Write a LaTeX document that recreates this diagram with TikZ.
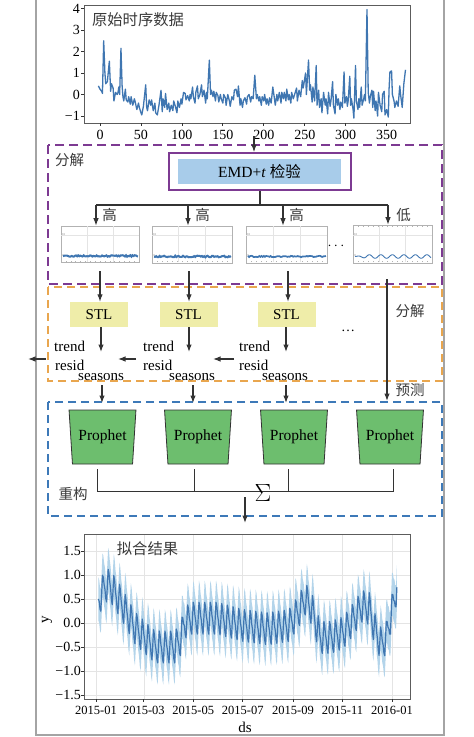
\documentclass[tikz,border=0pt]{standalone}
\usepackage{fontspec}
\setmainfont{Liberation Serif}
\newfontfamily\cjk{Noto Sans CJK SC}
\usetikzlibrary{arrows.meta,shapes.geometric}
\definecolor{framegray}{HTML}{A4A4A4}
\definecolor{purp}{HTML}{7D3A92}
\definecolor{lblue}{HTML}{A8CCEA}
\definecolor{orng}{HTML}{E9A64E}
\definecolor{stly}{HTML}{EFEDA9}
\definecolor{dblue}{HTML}{3D79B8}
\definecolor{pgreen}{HTML}{6DBE6E}
\definecolor{pline}{HTML}{3F76B1}
\definecolor{bandc}{HTML}{B3D4EA}
\definecolor{ink}{HTML}{333333}
\definecolor{gridc}{HTML}{E4E4E4}
\definecolor{txtgray}{HTML}{3A3A3A}
\tikzset{
  declare function={
    Lp(\x,\xa,\ya,\xb,\yb)=\ya+(\yb-\ya)*(\x-\xa)/(\xb-\xa);
    wk(\x)=0.3*sin(51.4286*mod(\x,7))+0.1*sin(102.857*mod(\x,7));
    tr(\x)=(\x<10)?Lp(\x,3,0.45,10,0.75):((\x<17)?Lp(\x,10,0.75,17,0.8):((\x<24)?Lp(\x,17,0.8,24,0.6):((\x<30)?Lp(\x,24,0.6,30,0.45):((\x<38)?Lp(\x,30,0.45,38,0.2):((\x<48)?Lp(\x,38,0.2,48,-0.1):((\x<60)?Lp(\x,48,-0.1,60,-0.3):((\x<73)?Lp(\x,60,-0.3,73,-0.5):((\x<97)?Lp(\x,73,-0.5,97,-0.5):((\x<104)?Lp(\x,97,-0.5,104,-0.35):((\x<109)?Lp(\x,104,-0.35,109,0.0):((\x<118)?Lp(\x,109,0.0,118,0.1):((\x<150)?Lp(\x,118,0.1,150,0.1):((\x<181)?Lp(\x,150,0.1,181,-0.05):((\x<212)?Lp(\x,181,-0.05,212,-0.12):((\x<238)?Lp(\x,212,-0.12,238,-0.05):((\x<250)?Lp(\x,238,-0.05,250,0.25):((\x<258)?Lp(\x,250,0.25,258,0.5):((\x<266)?Lp(\x,258,0.5,266,0.3):((\x<276)?Lp(\x,266,0.3,276,-0.3):((\x<290)?Lp(\x,276,-0.3,290,-0.3):((\x<305)?Lp(\x,290,-0.3,305,-0.2):((\x<318)?Lp(\x,305,-0.2,318,0.1):((\x<328)?Lp(\x,318,0.1,328,0.35):((\x<337)?Lp(\x,328,0.35,337,0.3):((\x<345)?Lp(\x,337,0.3,345,-0.2):((\x<352)?Lp(\x,345,-0.2,352,-0.45):((\x<358)?Lp(\x,352,-0.45,358,-0.3):((\x<363)?Lp(\x,358,-0.3,363,0.1):Lp(\x,363,0.1,371,0.75))))))))))))))))))))))))))));
  },
}
\begin{document}
\begin{tikzpicture}[x=1pt,y=-1pt,
  conn/.style={draw=ink, line width=1.1pt},
  arr/.style={conn, -{Latex[length=7.5pt,width=5.5pt]}},
  lbl/.style={font=\cjk\fontsize{14.5}{15}\selectfont, text=txtgray, inner sep=0},
  tick/.style={font=\fontsize{14}{14}\selectfont, inner sep=0},
  xtick/.style={font=\fontsize{12.5}{12.5}\selectfont, inner sep=0},
  stlbox/.style={fill=stly, minimum width=58pt, minimum height=25pt, inner sep=0, font=\fontsize{15}{15}\selectfont},
  word/.style={font=\fontsize{15}{15}\selectfont, inner sep=0, anchor=base west},
  prophet/.style={trapezium, trapezium stretches=true, shape border rotate=180, trapezium left angle=79, trapezium right angle=79, minimum width=67pt, minimum height=54pt, fill=pgreen, draw=ink, line width=0.8pt, inner sep=0, font=\fontsize{15.5}{16}\selectfont},
  minibox/.style={draw=gray!60, line width=0.6pt, fill=white, inner sep=0},
  axisbox/.style={draw=ink!80, line width=1pt},
  boxdash/.style={dash pattern=on 9pt off 5pt, line width=2.2pt},
]
\useasboundingbox (0,0) rectangle (474,737);
\fill[white] (0,0) rectangle (474,737);
% outer frame
\draw[framegray, line width=2pt] (36,-5) -- (36,735) -- (444,735) -- (444,-5);

% ===== top plot =====
\draw[axisbox] (84,5) rectangle (410,123);
\foreach \v/\s in {4/4,3/3,2/2,1/1,0/0,-1/−1} {
  \draw[ink, line width=0.8pt] (84,{94.5-21.5*\v}) -- ++(-3,0);
  \node[tick, anchor=east] at (80,{94.5-21.5*\v}) {\s};
}
\foreach \t in {0,50,...,350} {
  \draw[ink, line width=0.8pt] ({100+0.819*\t},123) -- ++(0,3);
  \node[tick] at ({100+0.819*\t},135) {\t};
}
\begin{scope}[shift={(100,94.5)}, x=0.819pt, y=21.5pt]
\draw[pline, line width=1.3pt, line join=round] plot coordinates {
(-2,0.4) (0,0.25) (2,0.15) (3,0.05) (4.5,2.5) (6,1.0) (7,0.5) (9,0.6) (11.4,1.55) (13,0.15) (14,0.5) (16,0.3) (17,-0.3) (19,0.1) (21,0.0) (22,0.1) (23,0.35) (24,0.0) (25.6,2.15) (27,0.4) (28,-0.1) (29,-0.3) (31,0.25) (32,-0.25) (34,-0.35) (35,-0.1) (37,-0.45) (38,-0.1) (40,-0.5) (42,-0.2) (43,-0.35) (45,-0.7) (47,-0.4) (48,-0.6) (50,-0.85) (51,-0.95) (53,-0.55) (55.8,0.45) (57,-0.6) (58,-0.75) (60,-0.25) (62,-0.5) (63,-0.25) (65,-0.75) (67,-0.4) (68,-0.85) (70,-0.95) (72,-0.5) (74.5,0.2) (76,-0.8) (77,-0.2) (79,-0.6) (80,0.05) (82,-0.7) (84,-0.4) (85,-0.8) (87,-0.5) (89,-0.75) (90,-0.3) (92,-0.55) (94,-0.85) (95,-0.3) (97,-0.6) (99,-0.2) (100,-0.45) (102,0.1) (104,0.05) (105,-0.25) (107,-0.05) (109,-0.3) (110,0.0) (111,-0.2) (113,0.35) (114,-0.1) (116,-0.4) (117,0.1) (119,0.4) (120,-0.2) (122,0.0) (124,0.45) (125,-0.1) (127,0.2) (129,-0.4) (130,0.1) (131,-0.2) (133.5,1.6) (135,0.0) (136,0.2) (138,-0.1) (139,0.15) (141,-0.3) (142,0.1) (144,-0.05) (145,-0.35) (147,0.0) (148,-0.2) (150,-0.4) (151,0.0) (153,-0.15) (154,-0.5) (156,0.0) (158,-0.3) (159,-0.55) (161,-0.1) (163,-0.25) (164,0.2) (166,0.25) (168,-0.1) (169,0.4) (171,-0.5) (172,-0.2) (174,-0.6) (175,-0.3) (177,-0.15) (179,-0.45) (180,-0.1) (182,0.0) (184,-0.35) (185,-0.1) (187,-0.2) (189,0.9) (191,-0.2) (192,0.0) (194,-0.3) (195,-0.1) (197,-0.5) (198,-0.1) (200,-0.3) (201,0.0) (203,-0.45) (204,-0.2) (206,-0.5) (207,-0.15) (209,-0.4) (211,0.35) (213,-0.2) (214,-0.5) (216,0.0) (217,-0.3) (219,0.1) (221,-0.4) (222,0.1) (224,-0.2) (225,0.1) (227,-0.3) (228,0.25) (230,-0.25) (231,0.0) (233,-0.4) (234,0.1) (236,-0.2) (238,0.05) (240,0.3) (241,-0.3) (243,0.2) (245,-0.1) (247,0.65) (248,0.3) (249,0.5) (251,1.0) (252,0.0) (254.6,1.6) (256,0.2) (257,0.45) (259,-0.35) (260,0.35) (262,-0.3) (264,1.35) (265,-0.5) (267,0.2) (268,-0.6) (270,-0.2) (271,-0.85) (273,0.1) (275,-0.5) (276,-0.2) (278,-0.9) (279,0.1) (281,-0.55) (282,-0.3) (284,0.6) (285,-0.5) (287,-0.9) (288,0.0) (290,-0.5) (291,-0.2) (293,-0.7) (294,-0.35) (296,-0.6) (298,1.05) (299,-0.4) (301,-0.1) (302,-0.55) (303,-0.3) (305,0.85) (306,-0.5) (307,-0.2) (309,-0.7) (310,-1.1) (312,1.35) (313,-0.3) (315,-0.7) (316,-0.2) (317,-0.6) (319,0.35) (320,-0.5) (322,-0.2) (323,0.0) (324,-0.3) (326,3.95) (327.5,0.1) (329,-0.4) (330,-0.1) (332,0.2) (333,-0.6) (334,0.15) (336,-0.75) (337,-0.3) (339,-1.0) (340,0.1) (342,-0.5) (344,-0.8) (345,0.0) (347,0.15) (348,-0.95) (350,-0.7) (352,-1.05) (353,0.3) (354,1.05) (356,1.1) (357,0.0) (359,-0.3) (360,-0.6) (362,-0.3) (364,-0.55) (366,0.4) (367,0.0) (369,-0.6) (371,0.5) (373,1.15)};
\end{scope}
\node[lbl, font=\cjk\fontsize{15.3}{16}\selectfont] (rawlbl) at (138,20) {原始时序数据};
\coordinate (rawout) at (254,136);

% ===== decomposition box (purple) =====
\draw[purp, boxdash] (48,145) rectangle (442,284);
\node[lbl] (fj1) at (69.5,160.5) {分解};
\node[draw=purp, line width=1.8pt, fill=white, minimum width=182pt, minimum height=37pt, inner sep=0] (emd) at (260,171.5) {};
\node[fill=lblue, minimum width=163pt, minimum height=25pt, inner sep=0, font=\fontsize{15.5}{16}\selectfont] (emdin) at (259.5,171.5) {EMD+\textit{t} {\cjk 检验}};
\draw[arr] (rawout) -- (rawout |- emd.north);

% branching bus
\coordinate (bus) at (260,205);
\coordinate (a1) at (96,205);
\coordinate (a2) at (188,205);
\coordinate (a3) at (283,205);
\coordinate (a4) at (388,205);
\draw[conn] (emd.south) -- (bus);
\draw[conn] (a1) -- (a4);

% mini plots
\node[minibox, minimum width=78pt, minimum height=36pt] (m1) at (100,244) {};
\node[minibox, minimum width=80pt, minimum height=37pt] (m2) at (192,244.5) {};
\node[minibox, minimum width=81pt, minimum height=37pt] (m3) at (286.5,244.5) {};
\node[minibox, minimum width=79pt, minimum height=38pt] (m4) at (392.5,244) {};
\foreach \xa/\xb in {61/139,152/232,246/327,353/432} {
  \draw[gridc, line width=0.5pt] ({\xa+(\xb-\xa)/3},226) -- ({\xa+(\xb-\xa)/3},262)
     ({\xa+2*(\xb-\xa)/3},226) -- ({\xa+2*(\xb-\xa)/3},262)
     (\xa,235) -- (\xb,235);
  \foreach \k in {0,...,16} {
    \draw[gray!60, line width=0.3pt] ({\xa+(\xb-\xa)*\k/16},226) -- ++(0,1.2)
      ({\xa+(\xb-\xa)*\k/16},262) -- ++(0,-1.2);
  }
  \node[font=\fontsize{3}{3}\selectfont, text=gray, inner sep=0] at ({\xa+2.5},235) {10};
  \node[font=\fontsize{3}{3}\selectfont, text=gray, inner sep=0] at ({\xa+2},256) {0};
}
\pgfmathsetseed{11}
\draw[pline, line width=2pt] plot[domain=63:138, samples=70] (\x,{256+0.8*rand});
\draw[pline, line width=2pt] plot[domain=154:231, samples=70] (\x,{256.5+0.8*rand});
\draw[pline, line width=1.7pt] plot[domain=248:326, samples=70] (\x,{256.5+0.7*rand});
\draw[pline, line width=0.9pt] plot[domain=355:431, samples=150] (\x,{256.5-1.8*sin(31.3*(\x-355))*min(1,(\x-355)/12)});
\node[inner sep=0, font=\fontsize{14}{14}\selectfont] (dots1) at (336,246) {$\cdots$};

\draw[arr] (a1) -- (a1 |- m1.north);
\draw[arr] (a2) -- (a2 |- m2.north);
\draw[arr] (a3) -- (a3 |- m3.north);
\draw[arr] (a4) -- (a4 |- m4.north);
\node[lbl] (g1) at (109.5,215) {高};
\node[lbl] (g2) at (202.5,215) {高};
\node[lbl] (g3) at (296.5,215) {高};
\node[lbl] (g4) at (403.5,215) {低};

% ===== STL box (orange) =====
\draw[orng, boxdash, dash pattern=on 8pt off 5pt, line width=2pt] (48,287) rectangle (442,381);
\node[stlbox] (s1) at (99,314.5) {STL};
\node[stlbox] (s2) at (188.5,314.5) {STL};
\node[stlbox] (s3) at (286.5,314.5) {STL};
\coordinate (mo1) at (100,271);
\coordinate (mo2) at (189,271);
\coordinate (mo3) at (288,271);
\draw[arr] (mo1) -- (mo1 |- s1.north);
\draw[arr] (mo2) -- (mo2 |- s2.north);
\draw[arr] (mo3) -- (mo3 |- s3.north);
\node[lbl] (fj2) at (410,311) {分解};
\node[inner sep=0, font=\fontsize{14}{14}\selectfont] (dots2) at (348,331) {…};

\coordinate (so1) at (101,327);
\coordinate (so2) at (189,327);
\coordinate (so3) at (286,327);
\coordinate (se1) at (101,352);
\coordinate (se2) at (189,352);
\coordinate (se3) at (286,352);
\draw[arr] (so1) -- (se1);
\draw[arr] (so2) -- (se2);
\draw[arr] (so3) -- (se3);

\node[word] (tr1) at (54,351.5) {trend};
\node[word] (re1) at (55,370.5) {resid};
\node[word] (ss1) at (78,380) {seasons};
\node[word] (tr2) at (143,351.5) {trend};
\node[word] (re2) at (143,370.5) {resid};
\node[word] (ss2) at (169,380) {seasons};
\node[word] (tr3) at (239,351.5) {trend};
\node[word] (re3) at (239,370.5) {resid};
\node[word] (ss3) at (262,380) {seasons};

\coordinate (lb1) at (46,359);  \coordinate (le1) at (28,359);
\coordinate (lb2) at (136,359); \coordinate (le2) at (118,359);
\coordinate (lb3) at (234,359); \coordinate (le3) at (213,359);
\draw[arr] (lb1) -- (le1);
\draw[arr] (lb2) -- (le2);
\draw[arr] (lb3) -- (le3);

% ===== forecast box (blue) =====
\node[lbl] (yc) at (410,390) {预测};
\draw[dblue, boxdash, dash pattern=on 8pt off 5pt, line width=2pt] (48,402) rectangle (442,516);
\node[prophet] (p1) at (102.5,437) {Prophet};
\node[prophet] (p2) at (198,437) {Prophet};
\node[prophet] (p3) at (294,437) {Prophet};
\node[prophet] (p4) at (390,437) {Prophet};

\coordinate (sb1) at (102,385); \coordinate (sb2) at (193,385); \coordinate (sb3) at (286,385);
\draw[arr] (sb1) -- (102,403);
\draw[arr] (sb2) -- (193,403);
\draw[arr] (sb3) -- (286,403);
\coordinate (lowtop) at (387,279);
\draw[arr] (lowtop) -- (387,401);

\coordinate (q1) at (97,469);
\coordinate (q2) at (194,469);
\coordinate (q3) at (288,469);
\coordinate (q4) at (393,469);
\coordinate (sumbus) at (0,491);
\draw[conn, line width=1pt] (q1) -- (q1 |- sumbus) -- (q4 |- sumbus) -- (q4);
\draw[conn, line width=1pt] (q2) -- (q2 |- sumbus);
\draw[conn, line width=1pt] (q3) -- (q3 |- sumbus);
\node[inner sep=0, font=\fontsize{32}{32}\selectfont] (sig) at (263,493) {$\Sigma$};
\node[lbl] (cg) at (73,494) {重构};
\coordinate (sgo) at (245,497);
\coordinate (sge) at (245,523);
\draw[arr] (sgo) -- (sge);

% ===== bottom plot =====
\foreach \d in {0,59,120,181,243,304,365} {
  \draw[gridc, line width=0.6pt] ({96+0.811*\d},534) -- ({96+0.811*\d},699);
}
\foreach \v in {-1.5,-1,...,1.5} {
  \draw[gridc, line width=0.6pt] (84,{623-48*\v}) -- (410,{623-48*\v});
}
\begin{scope}[shift={(96,623)}, x=0.811pt, y=48pt]
\fill[bandc] plot[domain=3:371, samples=369] (\x,{tr(\x)+wk(\x)+0.45}) -- plot[domain=371:3, samples=369] (\x,{tr(\x)+wk(\x)-0.45}) -- cycle;
\draw[pline, line width=1.2pt, line join=round] plot[domain=3:371, samples=369] (\x,{tr(\x)+wk(\x)});
\end{scope}
\draw[axisbox] (84,534) rectangle (410,699);
\foreach \v/\s in {1.5/1.5,1/1.0,0.5/0.5,0/0.0,-0.5/−0.5,-1/−1.0,-1.5/−1.5} {
  \draw[ink, line width=0.8pt] (84,{623-48*\v}) -- ++(-3,0);
  \node[tick, anchor=east] at (81,{623-48*\v}) {\s};
}
\foreach \d/\s in {0/2015-01,59/2015-03,120/2015-05,181/2015-07,243/2015-09,304/2015-11,365/2016-01} {
  \draw[ink, line width=0.8pt] ({96+0.811*\d},699) -- ++(0,3);
  \node[xtick] at ({96+0.811*\d},710) {\s};
}
\node[tick, font=\fontsize{15}{15}\selectfont] (dsl) at (245,727) {ds};
\node[tick, font=\fontsize{15}{15}\selectfont, rotate=90] (yl) at (47,620) {y};
\node[lbl, font=\cjk\fontsize{15.3}{16}\selectfont] (fitlbl) at (147.5,549) {拟合结果};
\end{tikzpicture}
\end{document}
